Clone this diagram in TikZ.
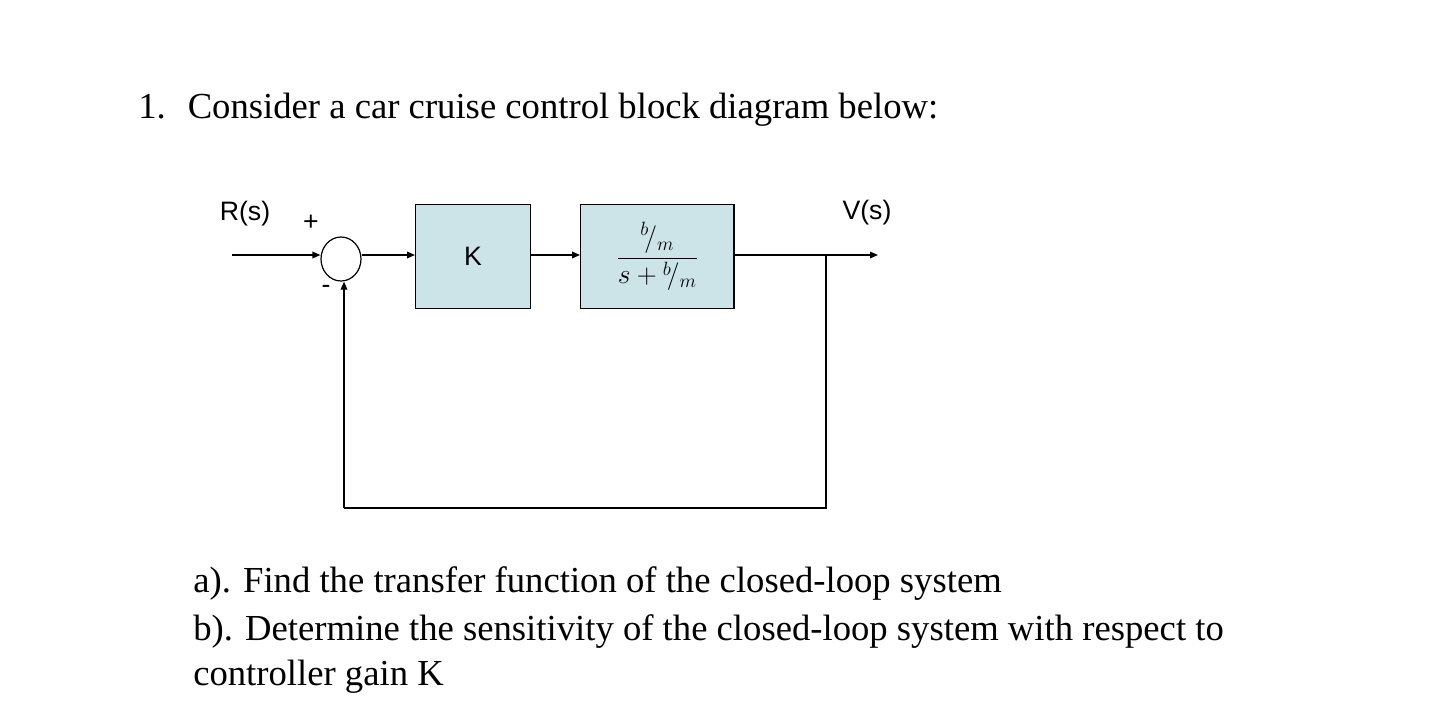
\documentclass[tikz,border=0pt]{standalone}
\usepackage{fontspec}
\setmainfont{Liberation Serif}
\newfontfamily\sff{Liberation Sans}
\usetikzlibrary{arrows.meta,shapes.geometric}
\begin{document}
\begin{tikzpicture}[x=0.75pt,y=-0.75pt,
  blk/.style={draw,fill=blue!10!teal!20!white,line width=0.9pt,anchor=north west,inner sep=0},
  ln/.style={line width=0.9pt},
  arr/.style={ln,-{Triangle[length=6pt,width=5pt]}},
  lab/.style={font=\sff\fontsize{20}{24}\selectfont},
  txt/.style={anchor=base west,inner sep=0,font=\fontsize{27.5}{32}\selectfont}]
\useasboundingbox (0,0) rectangle (1447,724);
\node[txt] (t1) at (138,118) {1.\hspace{0.6em}Consider a car cruise control block diagram below:};
\node[draw,ln,ellipse,minimum width=30pt,minimum height=33pt,inner sep=0] (sum) at (341,259) {};
\node[blk,minimum width=86pt,minimum height=78pt] (K) at (415,204) {};
\node[lab] (kl) at (K.center) {K};
\node[blk,minimum width=115pt,minimum height=78pt] (G) at (580,204) {};
\node (gl) at (G.center) {\fontsize{22}{26}\selectfont$\displaystyle\frac{{}^{b}\!/_{m}}{s+{}^{b}\!/_{m}}$};
\coordinate (in) at (232,255);
\coordinate (out) at (878,255);
\coordinate (br) at (826,255);
\coordinate (c1) at (826,508);
\coordinate (c2) at (344,508);
\draw[arr] (in) -- (sum.west |- in);
\draw[arr] (sum.east |- in) -- (K.west |- in);
\draw[arr] (K.east |- in) -- (G.west |- in);
\draw[arr] (G.east |- in) -- (out);
\draw[ln] (br) -- (c1) -- (c2);
\draw[arr] (c2) -- (c2 |- sum.south);
\node[lab] (r) at (245,214) {R(s)};
\node[lab] (p) at (311,223) {+};
\node[lab] (m) at (326,289) {-};
\node[lab] (v) at (867,213) {V(s)};
\node[txt] (a) at (193,592) {a). Find the transfer function of the closed-loop system};
\node[txt] (b) at (193,640) {b). Determine the sensitivity of the closed-loop system with respect to};
\node[txt] (c) at (193,685) {controller gain K};
\end{tikzpicture}
\end{document}
